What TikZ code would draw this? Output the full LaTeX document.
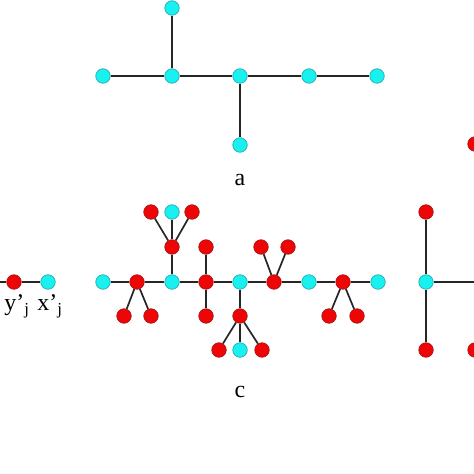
\documentclass[tikz,border=0pt]{standalone}
\usepackage{fontspec}
\setmainfont{Liberation Serif}
\usetikzlibrary{calc}
\definecolor{cyfill}{RGB}{25,240,240}
\definecolor{cyline}{RGB}{40,170,175}
\definecolor{rdfill}{RGB}{238,5,5}
\definecolor{rdline}{RGB}{170,20,20}

\begin{document}
\begin{tikzpicture}[x=1bp,y=-1bp,
	xv/.style={circle,fill=cyfill,draw=cyline,line width=.7bp,minimum size=14.5bp,inner sep=0pt},
	yv/.style={circle,fill=rdfill,draw=rdline,line width=.7bp,minimum size=14.5bp,inner sep=0pt},
	edge/.style={line width=1.7bp,black!85},
	lbl/.style={font=\fontsize{24}{26}\selectfont}]
\useasboundingbox (0,0) rectangle (474,474);

% tree a
\node[xv] (a1) at (103,76) {};
\node[xv] (a2) at (172,76) {};
\node[xv] (a3) at (240,76) {};
\node[xv] (a4) at (309,76) {};
\node[xv] (a5) at (377,76) {};
\node[xv] (a6) at (172,8) {};
\node[xv] (a7) at (240,145) {};
\draw[edge] (a1) -- (a2) -- (a3) -- (a4) -- (a5);
\draw[edge] (a2) -- (a6);
\draw[edge] (a3) -- (a7);
\node[lbl] (la) at (240,180) {a};

% pair on the left
\coordinate (c0) at (-10,282);
\node[yv] (y0) at (14,282) {};
\node[xv] (x0) at (48,282) {};
\draw[edge] (c0) -- (y0) -- (x0);
\node[lbl] (ly) at (17,306) {y'\textsubscript{j}};
\node[lbl] (lx) at (50,306) {x'\textsubscript{j}};

% tree c
\node[xv] (m1) at (103,282) {};
\node[yv] (m2) at (137,282) {};
\node[xv] (m3) at (172,282) {};
\node[yv] (m4) at (206,282) {};
\node[xv] (m5) at (240,282) {};
\node[yv] (m6) at (274,282) {};
\node[xv] (m7) at (309,282) {};
\node[yv] (m8) at (343,282) {};
\node[xv] (m9) at (378,282) {};
\draw[edge] (m1) -- (m2) -- (m3) -- (m4) -- (m5) -- (m6) -- (m7) -- (m8) -- (m9);

\node[yv] (b1) at (124,316) {};
\node[yv] (b2) at (151,316) {};
\draw[edge] (m2) -- (b1);
\draw[edge] (m2) -- (b2);

\node[yv] (u3) at (172,247) {};
\node[yv] (t1) at (151,212) {};
\node[xv] (t2) at (172,212) {};
\node[yv] (t3) at (192,212) {};
\draw[edge] (m3) -- (u3);
\draw[edge] (u3) -- (t1);
\draw[edge] (u3) -- (t2);
\draw[edge] (u3) -- (t3);

\node[yv] (u4) at (206,247) {};
\node[yv] (d4) at (206,316) {};
\draw[edge] (u4) -- (m4) -- (d4);

\node[yv] (d5) at (240,316) {};
\node[yv] (s1) at (219,350) {};
\node[xv] (s2) at (240,350) {};
\node[yv] (s3) at (262,350) {};
\draw[edge] (m5) -- (d5);
\draw[edge] (d5) -- (s1);
\draw[edge] (d5) -- (s2);
\draw[edge] (d5) -- (s3);

\node[yv] (u6a) at (261,247) {};
\node[yv] (u6b) at (288,247) {};
\draw[edge] (m6) -- (u6a);
\draw[edge] (m6) -- (u6b);

\node[yv] (d8a) at (329,316) {};
\node[yv] (d8b) at (357,316) {};
\draw[edge] (m8) -- (d8a);
\draw[edge] (m8) -- (d8b);
\node[lbl] (lc) at (240,392) {c};

% right, cut off
\node[xv] (r0) at (426,282) {};
\node[yv] (r1) at (426,212) {};
\node[yv] (r2) at (426,350) {};
\coordinate (r3) at (484,282);
\node[yv] (r4) at (475,350) {};
\node[yv] (r5) at (475,144) {};
\draw[edge] (r1) -- (r0) -- (r2);
\draw[edge] (r0) -- (r3);
\end{tikzpicture}
\end{document}
